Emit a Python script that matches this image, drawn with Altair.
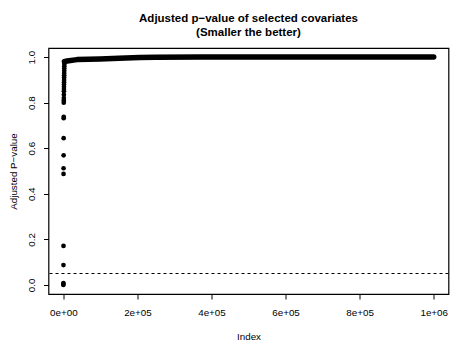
import altair as alt
import pandas as pd

# near-zero index points (sorted adjusted p-values)
low_idx = [100, 200, 300, 400, 500, 600, 700, 800, 900, 1000, 1100,
           1200, 1300, 1400, 1500, 1600, 1700, 1800, 1900, 2000, 2100,
           2200, 2300, 2400, 2500, 2600, 2700, 2800, 2900, 3000]
low_p = [0.0, 0.004, 0.008, 0.087, 0.171, 0.487, 0.512, 0.569, 0.644, 0.732, 0.738,
         0.80, 0.81, 0.82, 0.835, 0.85, 0.86, 0.87, 0.88, 0.89, 0.90,
         0.91, 0.92, 0.93, 0.94, 0.95, 0.96, 0.97, 0.975, 0.98]

# main body of the curve
curve_idx = [3000, 10000, 37000, 99000, 150000, 206000, 250000, 368000, 500000, 700000, 1000000]
curve_p = [0.98, 0.983, 0.989, 0.992, 0.995, 0.998, 0.999, 1.0, 1.0, 1.0, 1.0]

threshold = [0.05]

x_ticks = [0, 200000, 400000, 600000, 800000, 1000000]
x_labels = ["0e+00", "2e+05", "4e+05", "6e+05", "8e+05", "1e+06"]
y_ticks = [0.0, 0.2, 0.4, 0.6, 0.8, 1.0]

low_df = pd.DataFrame({"idx": low_idx, "p": low_p})
curve_df = pd.DataFrame({"idx": curve_idx, "p": curve_p})
thr_df = pd.DataFrame({"p": threshold})

FONT = "Liberation Sans"
label_expr = "[" + ",".join("'%s'" % s for s in x_labels) + "][round(datum.value/200000)]"

xscale = alt.Scale(domain=[-40000, 1040000], nice=False, zero=False)
yscale = alt.Scale(domain=[-0.04, 1.04], nice=False, zero=False)

xaxis = alt.Axis(values=x_ticks, labelExpr=label_expr, title="Index", grid=False,
                 domain=False, tickColor="black", tickSize=5, tickWidth=1,
                 labelFont=FONT, labelFontSize=9.8, labelColor="black",
                 labelBaseline="middle", labelPadding=13.7, labelFlush=False,
                 titleFont=FONT, titleFontSize=9.8, titleFontWeight="normal",
                 titleColor="black", titleBaseline="middle", titleY=42)
yaxis = alt.Axis(values=y_ticks, format=".1f", title="Adjusted P\u2212value", grid=False,
                 domain=False, tickColor="black", tickSize=5, tickWidth=1,
                 labelFont=FONT, labelFontSize=9.8, labelColor="black",
                 labelAngle=270, labelAlign="center", labelBaseline="middle",
                 labelPadding=11.8, labelFlush=False,
                 titleFont=FONT, titleFontSize=9.8, titleFontWeight="normal",
                 titleColor="black", titleAngle=270, titleAlign="center",
                 titleBaseline="middle", titleX=-35.5, titleY=123)

points = alt.Chart(low_df).mark_circle(size=22, color="black", opacity=1).encode(
    x=alt.X("idx:Q", scale=xscale, axis=xaxis),
    y=alt.Y("p:Q", scale=yscale, axis=yaxis),
)
line = alt.Chart(curve_df).mark_line(color="black", strokeWidth=5.5, strokeCap="round",
                                     strokeJoin="round").encode(
    x=alt.X("idx:Q", scale=xscale),
    y=alt.Y("p:Q", scale=yscale),
)
rule = alt.Chart(thr_df).mark_rule(color="black", strokeDash=[3, 3], strokeWidth=1).encode(
    y=alt.Y("p:Q", scale=yscale),
)

chart = alt.layer(rule, line, points).properties(
    width=400,
    height=246,
    autosize=alt.AutoSizeParams(type="none"),
    padding={"left": 40.5, "top": 40, "right": 15, "bottom": 50},
    title=alt.TitleParams(
        text=["Adjusted p\u2212value of selected covariates", "(Smaller the better)"],
        font=FONT, fontSize=11.5, fontWeight="bold", color="black",
        anchor="middle", frame="group", baseline="middle", lineHeight=14.5,
        offset=3.25,
    ),
).configure(
    background="white",
    view=alt.ViewConfig(stroke="black", strokeWidth=1.2, strokeOpacity=1),
)

chart.save("out.html", embed_options={"renderer": "svg", "actions": False})
